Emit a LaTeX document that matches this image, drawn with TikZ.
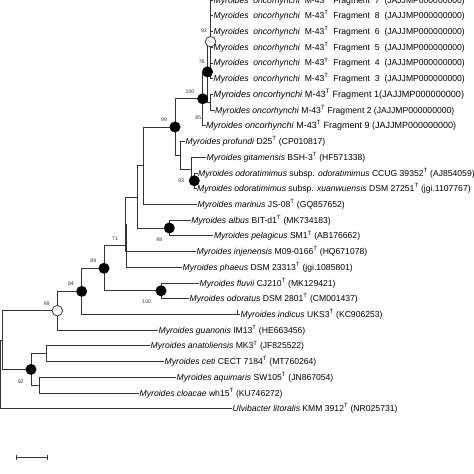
\documentclass[tikz,border=0pt]{standalone}
\usepackage{fontspec}
\setmainfont{Liberation Sans}
\usetikzlibrary{arrows.meta}
\tikzset{
  leaf/.style={anchor=west,inner sep=0.5pt,font=\fontsize{8.6}{10}\selectfont},
  branch/.style={draw=black!80,line width=0.75pt},
  bsfull/.style={circle,fill=black,inner sep=0pt,minimum size=11pt},
  bsopen/.style={circle,draw=black!80,fill=white,line width=0.75pt,inner sep=0pt,minimum size=10.5pt},
  bslab/.style={font=\fontsize{5.2}{6}\selectfont,text=black!80,inner sep=0pt}
}
\newcommand{\Tsup}{\textsuperscript{T}}
\newcommand{\fragw}[1]{{\spaceskip=4.8pt\relax\textit{Myroides oncorhynchi} M-43\Tsup{} Fragment #1 (JAJJMP000000000)}}

\begin{document}
\begin{tikzpicture}[x=1pt,y=-1pt]
  \useasboundingbox (0,0) rectangle (474,474);
  \fill[white] (0,0) rectangle (474,474);
  % leaves: name/tip x/row/label
  \foreach \nm/\lx/\rw/\txt in {
    f7/213/0/{\fragw{7}},
    f8/213/1/{\fragw{8}},
    f6/213/2/{\fragw{6}},
    f5/213/3/{\fragw{5}},
    f4/213/4/{\fragw{4}},
    f3/213/5/{\fragw{3}},
    f1/213/6/{\fontsize{9.1}{10}\selectfont\textit{Myroides oncorhynchi} M-43\Tsup{} Fragment 1(JAJJMP000000000)},
    f2/214.5/7/{\textit{Myroides oncorhynchi} M-43\Tsup{} Fragment 2 (JAJJMP000000000)},
    f9/205.5/8/{\fontsize{9}{10}\selectfont\textit{Myroides oncorhynchi} M-43\Tsup{} Fragment 9 (JAJJMP000000000)},
    prof/185/9/{\textit{Myroides profundi} D25\Tsup{} (CP010817)},
    gita/206/10/{\textit{Myroides gitamensis} BSH-3\Tsup{} (HF571338)},
    odmi/197.5/11/{\textit{Myroides odoratimimus} subsp. \textit{odoratimimus} CCUG 39352\Tsup{} (AJ854059)},
    xuan/196.5/12/{\textit{Myroides odoratimimus} subsp. \textit{xuanwuensis} DSM 27251\Tsup{} (jgi.1107767)},
    mari/197/13/{\textit{Myroides marinus} JS-08\Tsup{} (GQ857652)},
    albu/190.7/14/{\textit{Myroides albus} BIT-d1\Tsup{} (MK734183)},
    pela/213.3/15/{\textit{Myroides pelagicus} SM1\Tsup{} (AB176662)},
    inje/196/16/{\textit{Myroides injenensis} M09-0166\Tsup{} (HQ671078)},
    phae/182/17/{\textit{Myroides phaeus} DSM 23313\Tsup{} (jgi.1085801)},
    fluv/199/18/{\textit{Myroides fluvii} CJ210\Tsup{} (MK129421)},
    odor/189/19/{\textit{Myroides odoratus} DSM 2801\Tsup{} (CM001437)},
    indi/240/20/{\textit{Myroides indicus} UKS3\Tsup{} (KC906253)},
    guan/158/21/{\textit{Myroides guanonis} IM13\Tsup{} (HE663456)},
    anat/150/22/{\textit{Myroides anatoliensis} MK3\Tsup{} (JF825522)},
    ceti/164/23/{\textit{Myroides ceti} CECT 7184\Tsup{} (MT760264)},
    aqui/176/24/{\textit{Myroides aquimaris} SW105\Tsup{} (JN867054)},
    cloa/139/25/{\textit{Myroides cloacae} wh15\Tsup{} (KU746272)},
    ulvi/232/26/{\textit{Ulvibacter litoralis} KMM 3912\Tsup{} (NR025731)}}
    \node[leaf] (\nm) at (\lx,{15.72*\rw}) {\txt};
  % inner nodes
  \foreach \nm/\px/\py in {T92/210.5/41.7, T12/210.5/102.2, T76/207.5/71.9,
      N100/202.7/98.8, N99/175/127, P/180/155.3, G/191.7/169, N93/194.3/180.75,
      B/143.3/165.7, N98/169.3/228, A/137.3/196.9, X/125.5/224.2, N71/126.8/245.7,
      N100b/161/290.8, N89/104/268.3, N84/81.7/291.4, N99b/57.3/310.7,
      C/46.7/353.7, D/39.3/385.2, N92b/31/369.4, R1/2.7/340, Root/0.8/374.4}
    \coordinate (\nm) at (\px,\py);
  % branches
  \foreach \p/\c in {T92/f7, T92/f8, T92/f6, T92/f5, T92/f4, T92/f3, T12/f1, T12/f2,
      T76/T92, T76/T12, N100/T76, N100/f9, N99/N100, N99/P, P/prof, P/G,
      G/gita, G/N93, N93/odmi, N93/xuan, B/N99, B/mari, N98/albu, N98/pela,
      A/B, A/N98, X/A, X/inje, N71/X, N71/phae, N100b/fluv, N100b/odor,
      N89/N71, N89/N100b, N84/N89, N84/indi, N99b/N84, N99b/guan,
      C/anat, C/ceti, D/aqui, D/cloa, N92b/C, N92b/D, R1/N99b, R1/N92b,
      Root/R1, Root/ulvi}
    \draw[branch] (\p) |- (\c);
  \draw[branch] ([xshift=-3pt]indi.west) -- ++(0,-4.5);
  % bootstrap circles
  \foreach \nm in {T76,N100,N99,N93,N98,N89,N84,N100b,N92b}
    \node[bsfull] (c\nm) at (\nm) {};
  \foreach \nm in {T92,N99b}
    \node[bsopen] (c\nm) at (\nm) {};
  % bootstrap values
  \foreach \nm/\px/\py/\v in {l92a/204/31/92, l76/201.7/61.7/76, l100a/190/91.7/100,
      l85/198.3/117.3/85, l99a/164/119.3/99, l93/181/180.5/93, l98/159.3/239.3/98,
      l71/115/238.3/71, l89/93.3/260.7/89, l84/71/283.3/84, l100b/146.7/301.7/100,
      l99b/46.7/303.3/99, l92b/20.7/381.7/92}
    \node[bslab] (\nm) at (\px,\py) {\v};
  % scale bar
  \coordinate (sbl) at (15.7,457.3);
  \coordinate (sbr) at (47.7,457.3);
  \draw[branch,{Bar[width=5pt]}-{Bar[width=5pt]}] (sbl) -- (sbr);
\end{tikzpicture}
\end{document}
